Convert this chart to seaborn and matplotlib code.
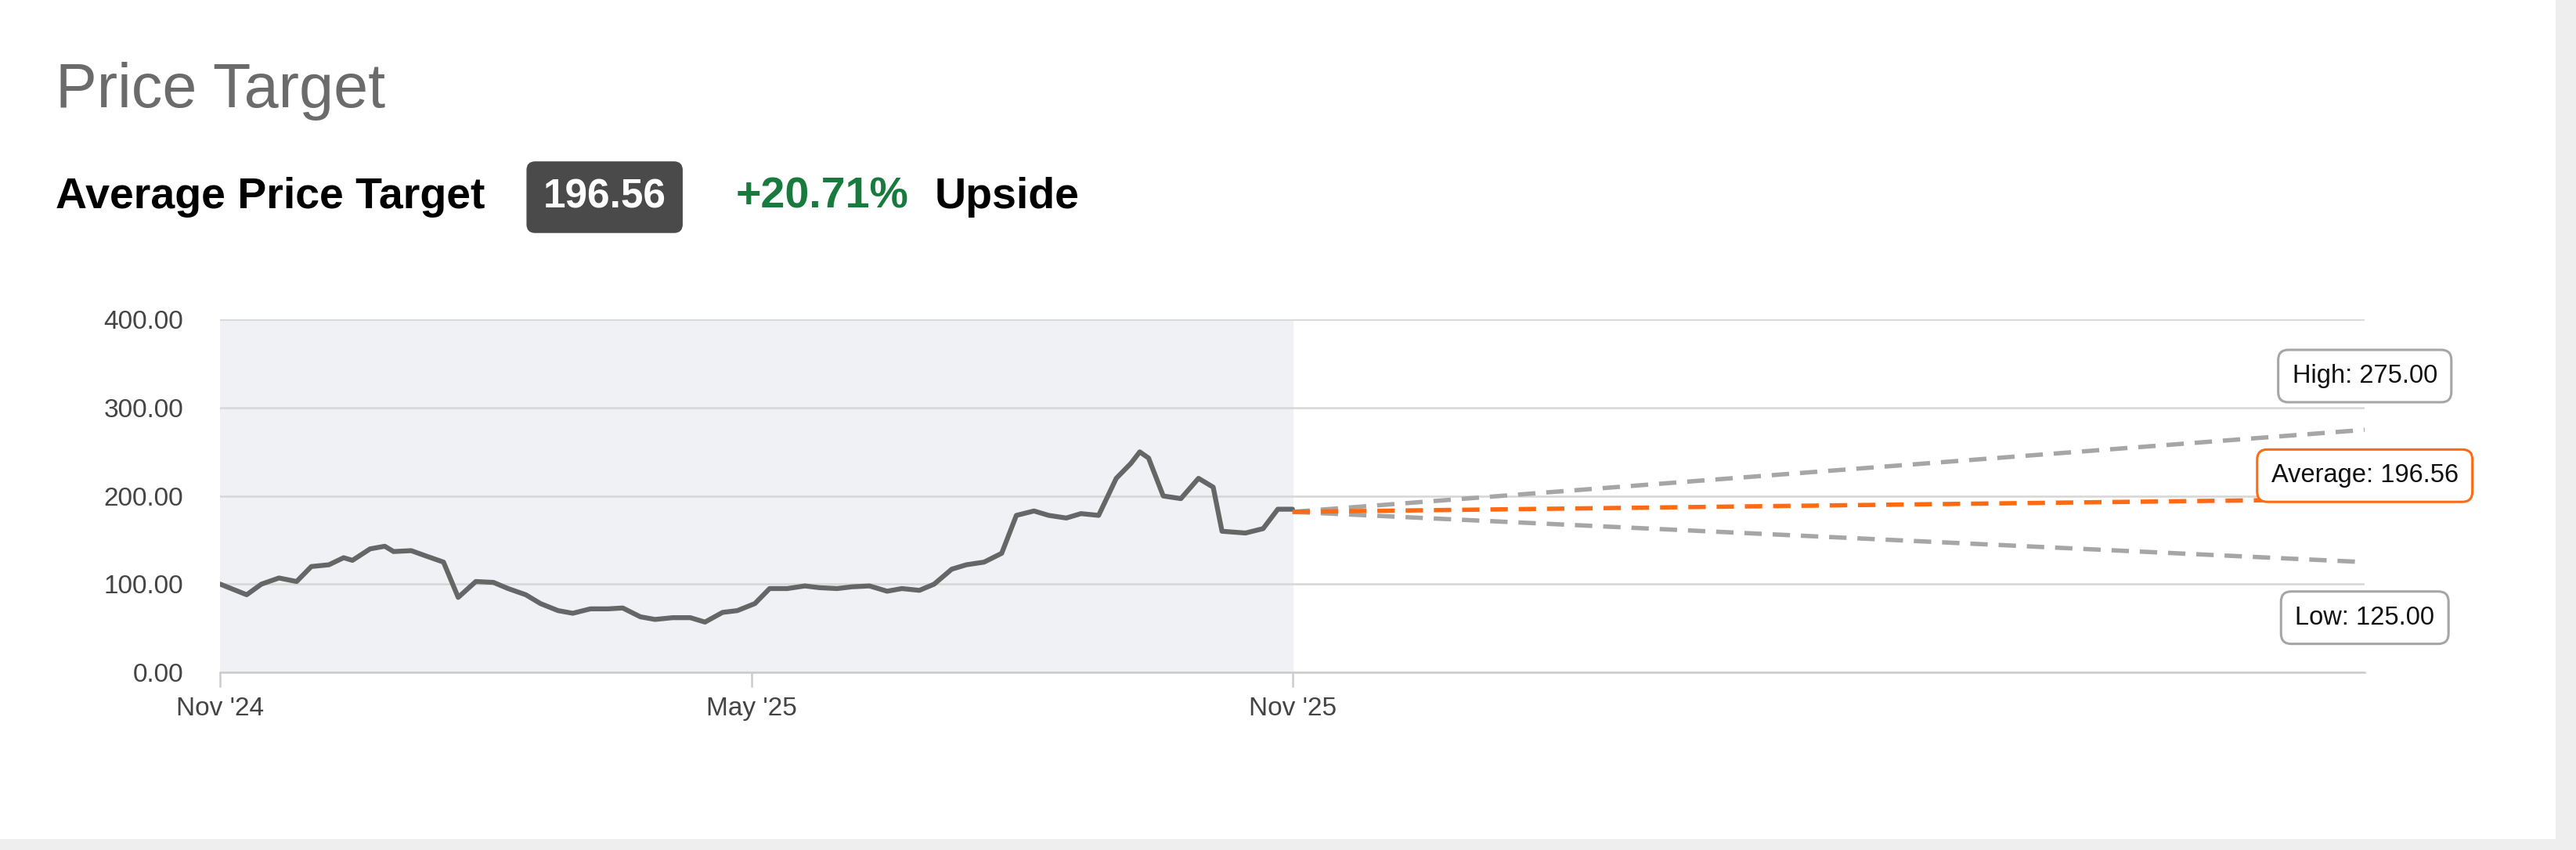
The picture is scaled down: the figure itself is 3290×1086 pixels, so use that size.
import matplotlib
matplotlib.use("Agg")
import matplotlib.pyplot as plt
from matplotlib.patches import Rectangle
import pandas as pd
import seaborn as sns

dates = ["2024-11-01","2024-11-07","2024-11-10","2024-11-15","2024-11-21","2024-11-27","2024-12-02","2024-12-08",
 "2024-12-13","2024-12-16","2024-12-22","2024-12-27","2024-12-30","2025-01-05","2025-01-10","2025-01-16",
 "2025-01-21","2025-01-27","2025-02-02","2025-02-07","2025-02-13","2025-02-18","2025-02-24","2025-03-01",
 "2025-03-07","2025-03-13","2025-03-18","2025-03-24","2025-03-29","2025-04-04","2025-04-10","2025-04-15",
 "2025-04-21","2025-04-26","2025-05-02","2025-05-07","2025-05-13","2025-05-19","2025-05-24","2025-05-30",
 "2025-06-04","2025-06-10","2025-06-16","2025-06-21","2025-06-27","2025-07-02","2025-07-08","2025-07-13",
 "2025-07-19","2025-07-25","2025-07-30","2025-08-05","2025-08-10","2025-08-16","2025-08-21","2025-08-27",
 "2025-09-02","2025-09-07","2025-09-10","2025-09-13","2025-09-18","2025-09-24","2025-09-30","2025-10-05",
 "2025-10-08","2025-10-16","2025-10-22","2025-10-27","2025-11-01"]
prices = [100,92,88,100,107,103,120,122,130,127,140,143,137,138,132,125,
 85,103,102,95,88,78,70,67,72,72,73,63,60,62,62,57,
 68,70,78,95,95,98,96,95,97,98,92,95,93,100,117,122,
 125,135,178,183,178,175,180,178,220,237,250,243,200,197,220,210,
 160,158,163,185,185]
current = 182.0
target_date = "2026-11-01"
high, average, low = 275.00, 196.56, 125.00
yticks = [0, 100, 200, 300, 400]
xtick_dates = ["2024-11-01", "2025-05-01", "2025-11-01"]
xtick_labels = ["Nov '24", "May '25", "Nov '25"]

df = pd.DataFrame({"date": pd.to_datetime(dates), "price": prices})

sns.set_theme(style="white")
plt.rcParams["font.family"] = ["Liberation Sans", "DejaVu Sans"]

fig = plt.figure(figsize=(32.9, 10.86), dpi=100)
ax = fig.add_axes([0.0855, 0.209, 0.8325, 0.415])

start = pd.Timestamp(dates[0]); end = pd.Timestamp(dates[-1]); tgt = pd.Timestamp(target_date)
ax.axvspan(start, end, color="#f0f1f5", zorder=0)
for y in yticks:
    ax.axhline(y, color="#d6d6d6", lw=1.8, zorder=0.5)

sns.lineplot(data=df, x="date", y="price", ax=ax, color="#666666", lw=4.5, zorder=3)
for val, col in [(high, "#a6a6a6"), (low, "#a6a6a6"), (average, "#ff6a13")]:
    tdf = pd.DataFrame({"date": [end, tgt], "price": [current, val]})
    sns.lineplot(data=tdf, x="date", y="price", ax=ax, color=col, lw=4, zorder=4 if col != "#a6a6a6" else 2,
                 linestyle=(0, (4, 2.5)))

ax.set_xlim(start, tgt)
ax.set_ylim(0, 400)
ax.set_yticks(yticks)
ax.set_yticklabels([f"{v:.2f}" for v in yticks], fontsize=24, color="#444444")
ax.set_xticks(pd.to_datetime(xtick_dates))
ax.set_xticklabels(xtick_labels, fontsize=24, color="#444444")
ax.tick_params(axis="x", length=14, width=1.8, color="#cccccc", pad=8, direction="out", bottom=True)
ax.tick_params(axis="y", length=0, pad=34)
for s in ["top", "right", "left"]:
    ax.spines[s].set_visible(False)
ax.spines["bottom"].set_color("#cccccc"); ax.spines["bottom"].set_linewidth(1.8)
ax.set_xlabel(""); ax.set_ylabel("")

for txt, yv, edge in [("High: %.2f" % high, 336, "#a6a6a6"), ("Average: %.2f" % average, 223, "#ff6a13"),
                      ("Low: %.2f" % low, 62, "#a6a6a6")]:
    ax.text(tgt, yv, txt, fontsize=23.5, color="#111111", ha="center", va="center", zorder=6,
            bbox=dict(boxstyle="round,pad=0.55,rounding_size=0.4", fc="white", ec=edge, lw=2.2), clip_on=False)

fig.text(0.0217, 0.893, "Price Target", fontsize=57, color="#6b6b6b", va="center")
fig.text(0.0217, 0.768, "Average Price Target", fontsize=40, color="black", weight="bold", va="center")
fig.text(0.2347, 0.768, "196.56", fontsize=37, color="white", weight="bold", va="center", ha="center",
         bbox=dict(boxstyle="round,pad=0.4,rounding_size=0.2", fc="#4a4a4a", ec="#4a4a4a"))
fig.text(0.2857, 0.768, "+20.71%", fontsize=40, color="#187a3c", weight="bold", va="center")
fig.text(0.3629, 0.768, "Upside", fontsize=40, color="black", weight="bold", va="center")

fig.patches.append(Rectangle((0, 0), 1, 0.013, transform=fig.transFigure, fc="#eeeeee", ec="none"))
fig.patches.append(Rectangle((0.992, 0), 0.008, 1, transform=fig.transFigure, fc="#eeeeee", ec="none"))

fig.savefig("out.png", dpi=100)
